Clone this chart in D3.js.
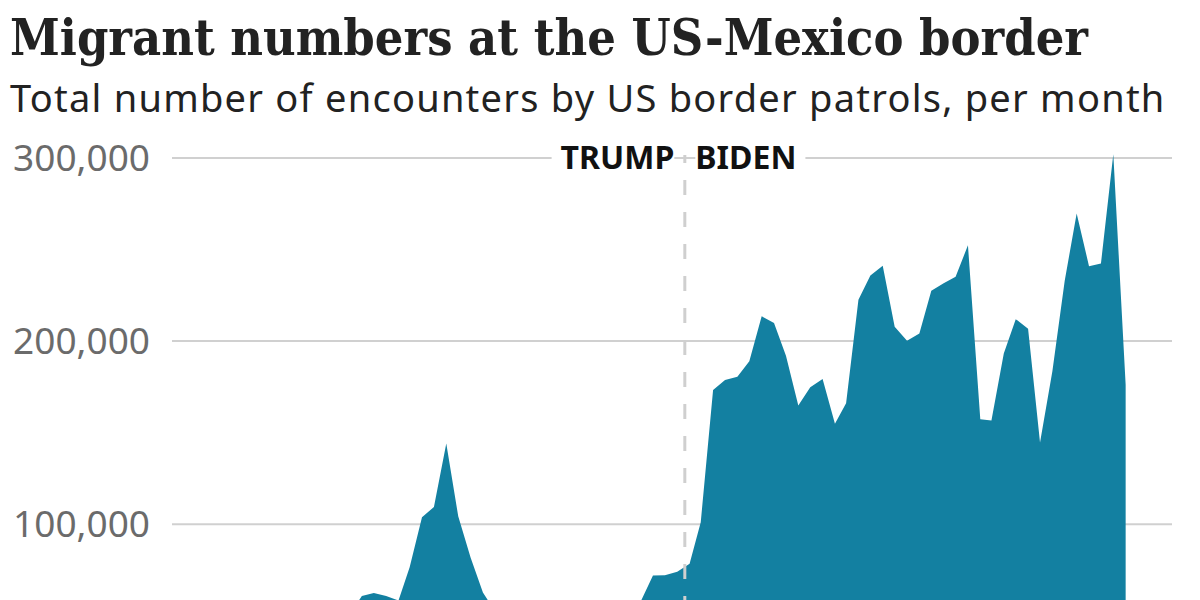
<!DOCTYPE html>
<html>
<head>
<meta charset="utf-8">
<script src="https://d3js.org/d3.v7.min.js"></script>
<style>
  body { margin: 0; background: #fff; }
  svg { display: block; overflow: hidden; }
</style>
</head>
<body>
<div id="chart"></div>
<script>
// Monthly encounters, Jan 2018 - Jan 2024
const months = [
  "2018-01","2018-02","2018-03","2018-04","2018-05","2018-06","2018-07","2018-08","2018-09","2018-10","2018-11","2018-12",
  "2019-01","2019-02","2019-03","2019-04","2019-05","2019-06","2019-07","2019-08","2019-09","2019-10","2019-11","2019-12",
  "2020-01","2020-02","2020-03","2020-04","2020-05","2020-06","2020-07","2020-08","2020-09","2020-10","2020-11","2020-12",
  "2021-01","2021-02","2021-03","2021-04","2021-05","2021-06","2021-07","2021-08","2021-09","2021-10","2021-11","2021-12",
  "2022-01","2022-02","2022-03","2022-04","2022-05","2022-06","2022-07","2022-08","2022-09","2022-10","2022-11","2022-12",
  "2023-01","2023-02","2023-03","2023-04","2023-05","2023-06","2023-07","2023-08","2023-09","2023-10","2023-11","2023-12",
  "2024-01"
];
const encounters = [
  35905, 36690, 50347, 51168, 51862, 43180, 40486, 46719, 50566, 60787, 62456, 60794,
  58317, 76545, 103731, 109415, 144116, 104311, 81777, 62707, 52546, 45139, 42649, 40565,
  36585, 36687, 34460, 17106, 23237, 33049, 40929, 50014, 57674, 71929, 72113, 73994,
  78414, 101099, 173277, 178795, 180597, 189034, 213593, 209840, 192001, 164837, 174845, 179253,
  154874, 166010, 222574, 235785, 241136, 207834, 200162, 204087, 227547, 231529, 235173, 252315,
  157358, 156630, 193249, 211992, 206690, 144556, 183479, 232963, 269735, 240936, 242418, 301983,
  176205
];
const yTicks = [100000, 200000, 300000];
const eraLabels = ["TRUMP", "BIDEN"];
const inauguration = "2021-01-20";

const width = 1200, height = 600;
const svg = d3.select('#chart').append('svg')
    .attr('width', width)
    .attr('height', height);

// each month is plotted at its end (start of following month)
const parseMonth = d3.utcParse('%Y-%m');
const data = months.map((m, i) => ({
    date: d3.utcMonth.offset(parseMonth(m), 1),
    value: encounters[i]
}));

const x = d3.scaleUtc()
    .domain([Date.UTC(2018, 0, 1), Date.UTC(2024, 0, 1)])
    .range([240.8, 1113.3]);

const y = d3.scaleLinear()
    .domain([0, 300000])
    .range([707.3, 158]);

const gridLeft = 172, gridRight = 1172;

// title + subtitle
svg.append('text')
    .attr('x', 10).attr('y', 55)
    .style('font-family', '"DejaVu Serif Condensed", "DejaVu Serif", serif')
    .style('font-stretch', 'condensed')
    .style('font-weight', 'bold')
    .style('font-size', '50px')
    .style('fill', '#222')
    .text('Migrant numbers at the US-Mexico border');

svg.append('text')
    .attr('x', 10).attr('y', 112)
    .style('font-family', '"Noto Sans", sans-serif')
    .style('font-size', '38px')
    .style('letter-spacing', '1.25px')
    .style('fill', '#222')
    .text('Total number of encounters by US border patrols, per month');

// gridlines + y labels
const grid = svg.append('g');
grid.selectAll('line')
    .data(yTicks)
    .join('line')
    .attr('x1', gridLeft).attr('x2', gridRight)
    .attr('y1', d => y(d)).attr('y2', d => y(d))
    .style('stroke', '#d0d0d0')
    .style('stroke-width', 2);

grid.selectAll('text')
    .data(yTicks)
    .join('text')
    .attr('x', 150)
    .attr('y', d => y(d) + 13)
    .attr('text-anchor', 'end')
    .style('font-family', '"Noto Sans", sans-serif')
    .style('font-size', '37px')
    .style('fill', '#6b6b6b')
    .text(d => d3.format(',')(d));

// area
const area = d3.area()
    .x(d => x(d.date))
    .y0(y(0))
    .y1(d => y(d.value));

svg.append('path')
    .datum(data)
    .attr('d', area)
    .style('fill', '#1380a1');

// Trump / Biden divider
const ix = x(d3.utcParse('%Y-%m-%d')(inauguration));

const labels = svg.append('g');
eraLabels.forEach((t, i) => {
    const txt = labels.append('text')
        .attr('x', i === 0 ? ix - 10.5 : ix + 10.5)
        .attr('y', 169)
        .attr('text-anchor', i === 0 ? 'end' : 'start')
        .style('font-family', '"Noto Sans", sans-serif')
        .style('font-weight', 'bold')
        .style('font-size', '32px')
        .style('fill', '#111')
        .text(t);
    const b = txt.node().getBBox();
    labels.insert('rect', 'text')
        .attr('x', i === 0 ? b.x - 9 : b.x)
        .attr('y', b.y)
        .attr('width', b.width + 9)
        .attr('height', b.height)
        .style('fill', '#fff');
});

svg.append('line')
    .attr('x1', ix).attr('x2', ix)
    .attr('y1', 155).attr('y2', height)
    .style('stroke', '#cfcfcf')
    .style('stroke-width', 3)
    .style('stroke-dasharray', '15 17')
    .style('stroke-dashoffset', 7);
</script>
</body>
</html>
